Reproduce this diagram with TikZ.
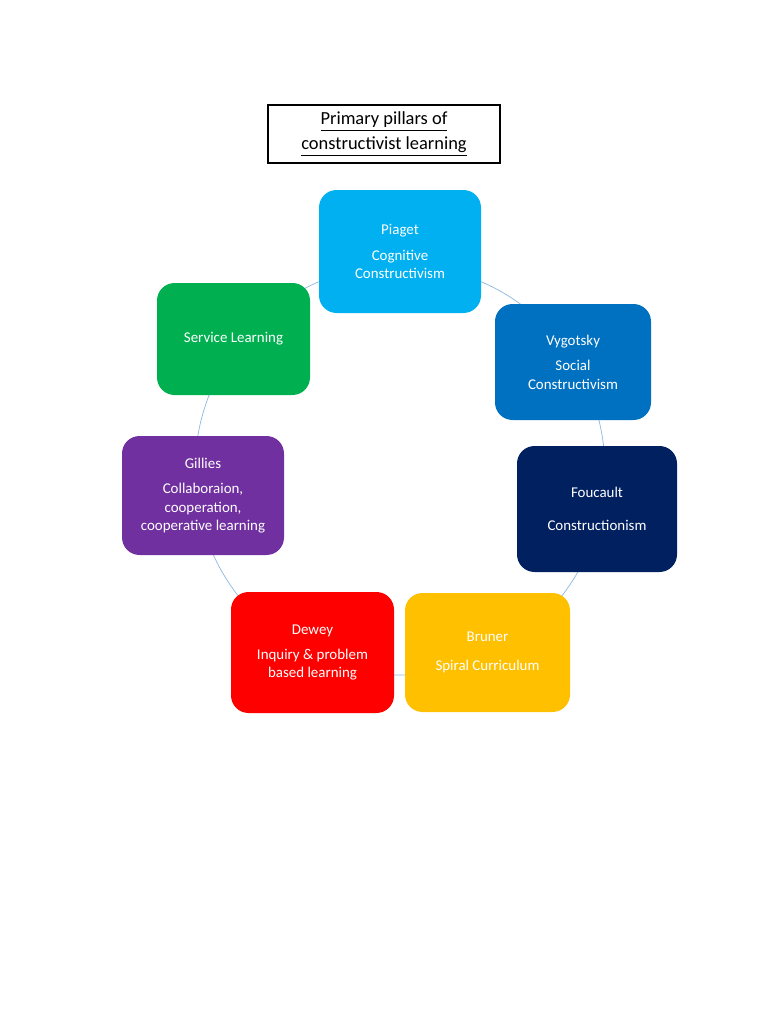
\documentclass[tikz,border=0pt]{standalone}
\usepackage{fontspec}
\setmainfont{Carlito}
\usepackage{xcolor}
\definecolor{piagetblue}{HTML}{00B0F0}
\definecolor{vygotskyblue}{HTML}{0070C0}
\definecolor{foucaultblue}{HTML}{002060}
\definecolor{brunergold}{HTML}{FFC000}
\definecolor{deweyred}{HTML}{FF0000}
\definecolor{gilliespurple}{HTML}{7030A0}
\definecolor{servicegreen}{HTML}{00B050}
\definecolor{ringblue}{HTML}{5B9BD5}
\begin{document}
\begin{tikzpicture}[x=0.02cm, y=-0.02cm,
  pillar/.style={rounded corners=10pt, text=white, align=center, inner sep=0pt,
    font=\fontsize{8.5}{10.5}\selectfont}]
			\useasboundingbox[fill=white] (0,0) rectangle (768,1024);
			\draw[ringblue!70, line width=0.4pt] (400,470) circle (205);
			\node[draw, thick, minimum width=232*0.02cm, minimum height=58*0.02cm, align=center,
			  font=\fontsize{10.5}{13}\selectfont] (title) at (384,134)
			  {\underline{Primary pillars of}\\[1pt]\underline{constructivist learning}};
			\node[pillar, fill=piagetblue, minimum width=162*0.02cm, minimum height=123*0.02cm] (piaget) at (400,251.5) {Piaget\\[4pt]Cognitive\\Constructivism};
			\node[pillar, fill=vygotskyblue, minimum width=156*0.02cm, minimum height=116*0.02cm] (vygotsky) at (573,362) {Vygotsky\\[4pt]Social\\Constructivism};
			\node[pillar, fill=foucaultblue, minimum width=160*0.02cm, minimum height=126*0.02cm] (foucault) at (597,509) {Foucault\\[8pt]Constructionism};
			\node[pillar, fill=brunergold, minimum width=165*0.02cm, minimum height=119*0.02cm] (bruner) at (487.5,652.5) {Bruner\\[6pt]Spiral Curriculum};
			\node[pillar, fill=deweyred, minimum width=163*0.02cm, minimum height=121*0.02cm] (dewey) at (312.5,652.5) {Dewey\\[4pt]Inquiry \& problem\\based learning};
			\node[pillar, fill=gilliespurple, minimum width=162*0.02cm, minimum height=119*0.02cm] (gillies) at (203,495.5) {Gillies\\[4pt]Collaboraion,\\cooperation,\\cooperative learning};
			\node[pillar, fill=servicegreen, minimum width=153*0.02cm, minimum height=112*0.02cm] (service) at (233.5,339) {Service Learning};
		\end{tikzpicture}
\end{document}
